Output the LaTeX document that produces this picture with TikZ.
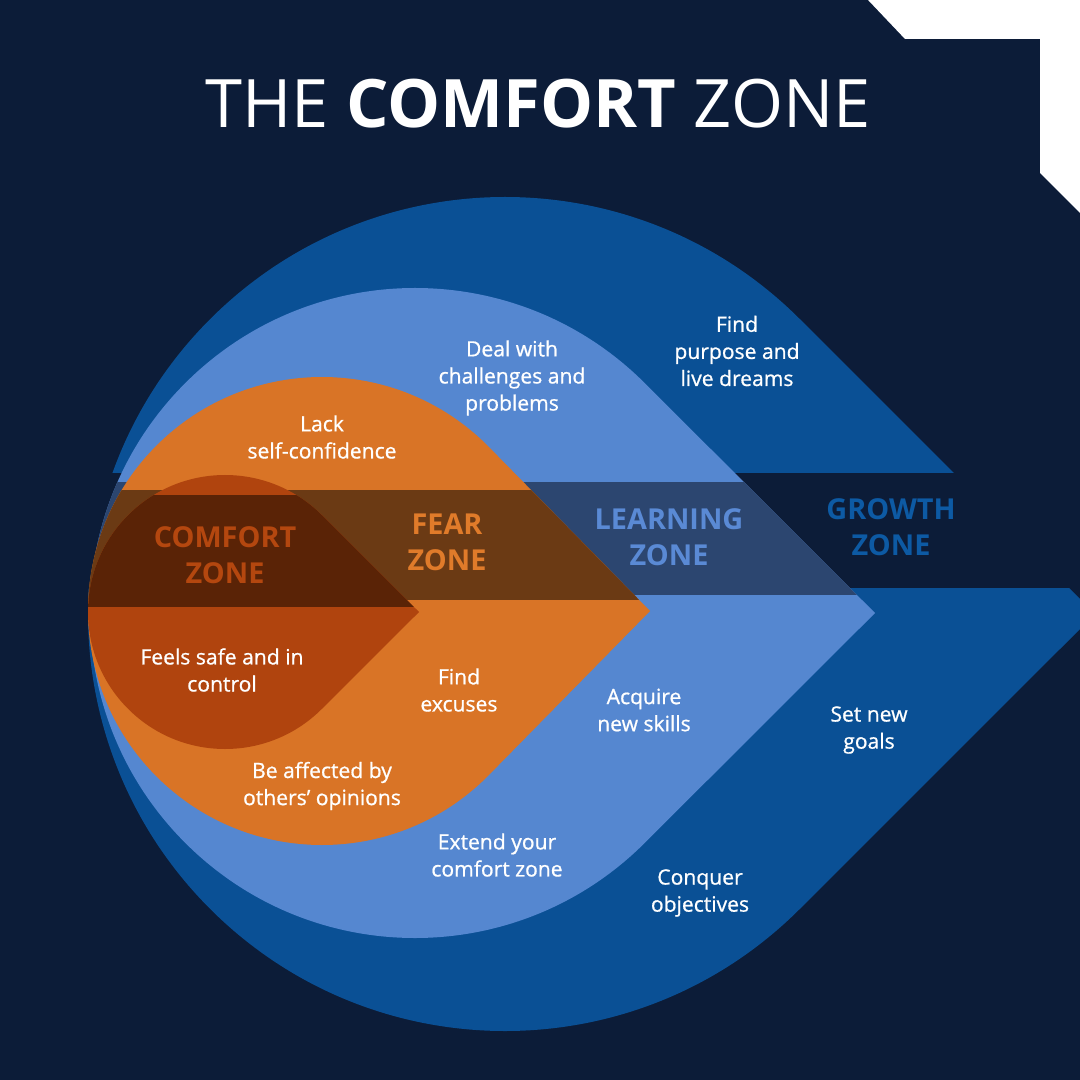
\documentclass[tikz,border=0pt]{standalone}
\usepackage{fontspec}
\setmainfont{Open Sans}
\newfontfamily\semib[FakeBold=0.8]{Open Sans}
\definecolor{bg}{HTML}{0C1C38}
\definecolor{growth}{HTML}{0A5095}
\definecolor{learn}{HTML}{5587D0}
\definecolor{learnband}{HTML}{2C4670}
\definecolor{fear}{HTML}{D97426}
\definecolor{fearband}{HTML}{6B3A14}
\definecolor{comfort}{HTML}{B0440E}
\definecolor{comfortband}{HTML}{5A2306}
\definecolor{tcomfort}{HTML}{B4470F}
\definecolor{tfear}{HTML}{E07B2A}
\definecolor{tlearn}{HTML}{5A8AD5}
\definecolor{tgrowth}{HTML}{0D5AA4}
\newcommand\dropPath[4]{(#4,#2) -- ({#1+0.7071*#3},{#2+0.7071*#3}) arc[start angle=45,end angle=315,radius=#3] -- cycle}
\tikzset{
  lbl/.style={text=white,align=center,font=\semib\fontsize{6}{7.7}\selectfont,inner sep=0},
  zlbl/.style={align=center,font=\bfseries\fontsize{8.2}{10.2}\selectfont,inner sep=0}
}
\begin{document}
\begin{tikzpicture}[x=0.01cm,y=-0.01cm]
\fill[bg] (0,0) rectangle (1080,1080);
\useasboundingbox (0,0) rectangle (1080,1080);
\fill[white] (868,0) -- (1080,0) -- (1080,213) -- (1040,173) -- (1040,39) -- (905,39) -- cycle;
% growth
\begin{scope}
\clip (0,0) rectangle (1080,1080);
\fill[growth] \dropPath{505}{614}{417}{1095};
\fill[bg] (80,473) rectangle (1100,588);
\end{scope}
% learning
\fill[learn] \dropPath{415}{613}{325}{875};
\begin{scope}
\clip \dropPath{415}{613}{325}{875};
\fill[learnband] (80,482) rectangle (900,595);
\end{scope}
% fear
\fill[fear] \dropPath{322}{611}{234}{650};
\begin{scope}
\clip \dropPath{322}{611}{234}{650};
\fill[fearband] (80,490) rectangle (700,600);
\end{scope}
% comfort
\fill[comfort] \dropPath{225}{612}{137}{419};
\begin{scope}
\clip \dropPath{225}{612}{137}{419};
\fill[comfortband] (80,495) rectangle (450,607);
\end{scope}
% title
\node[text=white,font=\fontsize{19}{22}\selectfont,inner sep=0] (title) at (538,104) {THE \textbf{COMFORT} ZONE};
% zone labels
\node[zlbl,text=tcomfort] (zc) at (225,555) {COMFORT\\ZONE};
\node[zlbl,text=tfear] (zf) at (447,542) {FEAR\\ZONE};
\node[zlbl,text=tlearn] (zl) at (669,537) {LEARNING\\ZONE};
\node[zlbl,text=tgrowth] (zg) at (891,527) {GROWTH\\ZONE};
% labels
\node[lbl] (a1) at (322,437) {Lack\\self-confidence};
\node[lbl] (a2) at (512,378) {Deal with\\challenges and\\problems};
\node[lbl] (a3) at (737,351) {Find\\purpose and\\live dreams};
\node[lbl] (b1) at (222,670) {Feels safe and in\\control};
\node[lbl] (b2) at (459,690) {Find\\excuses};
\node[lbl] (b3) at (644,710) {Acquire\\new skills};
\node[lbl] (b4) at (869,730) {Set new\\goals};
\node[lbl] (c1) at (322,786) {Be affected by\\others’ opinions};
\node[lbl] (c2) at (497,855) {Extend your\\comfort zone};
\node[lbl] (c3) at (700,893) {Conquer\\objectives};
\end{tikzpicture}
\end{document}
